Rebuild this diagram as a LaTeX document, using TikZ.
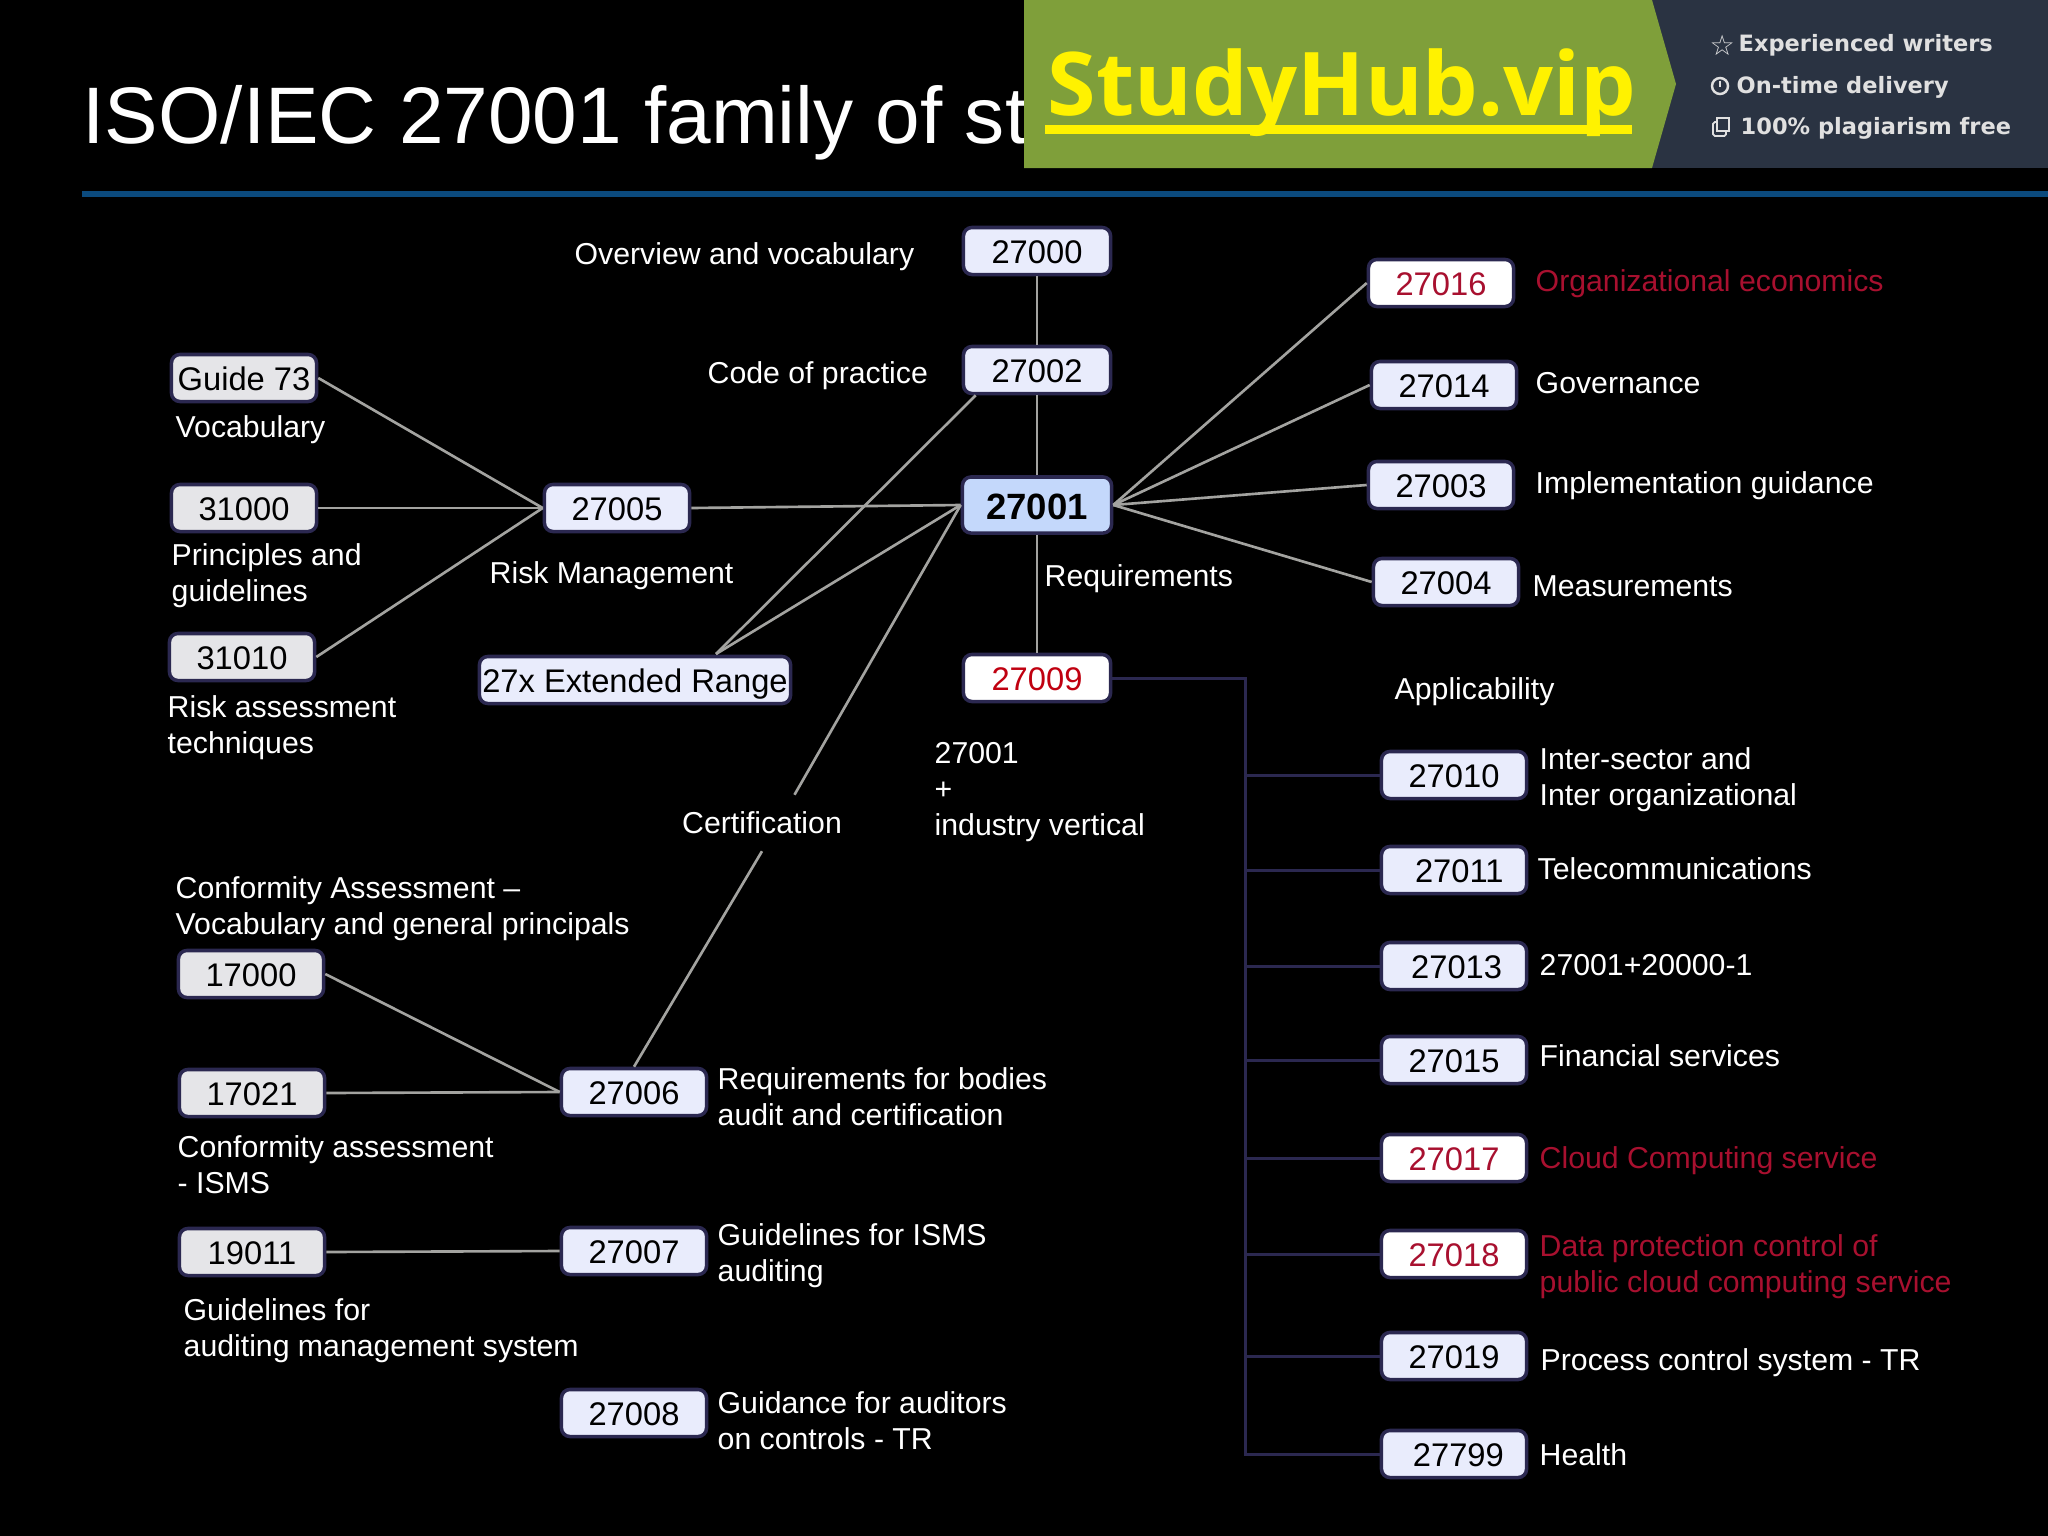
\documentclass[tikz,border=0pt]{standalone}
\usepackage{fontspec}
\setmainfont{Liberation Sans}
\newfontfamily\bannerfont{Open Sans}
\newfontfamily\sidefont{DejaVu Sans}
\usetikzlibrary{positioning,calc}
\definecolor{boxline}{HTML}{2B2850}
\definecolor{boxfill}{HTML}{E9ECFC}
\definecolor{boxgrey}{HTML}{E5E5E8}
\definecolor{boxmain}{HTML}{C4D8FB}
\definecolor{lineg}{HTML}{A3A3A0}
\definecolor{darkred}{HTML}{A8102F}
\definecolor{boxred}{HTML}{C00010}
\definecolor{rulecol}{HTML}{0B4A7D}
\definecolor{bannerg}{HTML}{7F9F3A}
\definecolor{bannerd}{HTML}{2A3342}
\definecolor{bannery}{HTML}{FFF200}
\tikzset{
	stdbox/.style={draw=boxline,line width=1pt,fill=boxfill,rounded corners=2.4pt,minimum width=1.45cm,minimum height=0.47cm,inner sep=0pt,text height=7pt,text depth=0pt,text=black,font=\fontsize{9.3}{11}\selectfont},
	greybox/.style={stdbox,fill=boxgrey},
	redbox/.style={stdbox,fill=white,text=darkred},
	lbl/.style={anchor=west,inner sep=0pt,xshift=-0.01cm,yshift=-0.03cm,align=left,text=white,font=\fontsize{8.6}{10.2}\selectfont},
	redlbl/.style={lbl,text=darkred},
	gline/.style={draw=lineg,line width=0.75pt},
	dline/.style={draw=boxline,line width=0.85pt},
	sidetxt/.style={anchor=west,inner sep=0pt,text=white!88!black,font=\sidefont\bfseries\fontsize{6.4}{7}\selectfont}
}
\begin{document}
\begin{tikzpicture}[x=0.01cm,y=-0.01cm]
	\useasboundingbox (0,0) rectangle (2048,1536);
	\fill[black] (0,0) rectangle (2048,1536);
	%title and banner
	\node[anchor=base west,inner sep=0pt,text=white,font=\fontsize{22.8}{26}\selectfont] (title) at (82,143) {ISO/IEC 27001 family of st};
	\draw[rulecol,line width=1.7pt] (82,194) -- (2048,194);
	\fill[bannerd] (1640,0) rectangle (2048,168);
	\fill[bannerg] (1024,0) -- (1652,0) -- (1676,84) -- (1652,168) -- (1024,168) -- cycle;
	\node[anchor=base west,inner sep=0pt,text=bannery,font=\bannerfont\bfseries\fontsize{25}{30}\selectfont] (hub) at (1047,115) {StudyHub.vip};
	\fill[bannery] (1045,125) rectangle (1632,134);
	\node[sidetxt,font=\sidefont\fontsize{8}{9}\selectfont] (star) at (1709,45) {☆};
	\node[sidetxt] (exp) at (1738,45) {Experienced writers};
	\draw[white!88!black,line width=0.7pt] (1720,86) circle (8);
	\draw[white!88!black,line width=0.6pt] (1720,81) -- (1720,87);
	\node[sidetxt] (ont) at (1736,87) {On-time delivery};
	\draw[white!88!black,line width=0.5pt,rounded corners=0.5pt] (1713,122) rectangle (1726,136);
	\draw[white!88!black,line width=0.5pt,fill=bannerd] (1717,118) rectangle (1729,131);
	\node[sidetxt] (plag) at (1740,128) {100\% plagiarism free};
	%centre column
	\node[stdbox,minimum width=1.47cm] (n27000) at (1037,251) {27000};
	\node[stdbox,minimum width=1.47cm] (n27002) at (1037,370) {27002};
	\node[stdbox,fill=boxmain,minimum width=1.49cm,minimum height=0.56cm,text height=8pt,font=\bfseries\fontsize{10.4}{12}\selectfont] (n27001) at (1037,505) {27001};
	\node[stdbox,minimum width=1.47cm,fill=white,text=boxred] (n27009) at (1037,678) {27009};
	\node[lbl] (overview) at (575,254) {Overview and vocabulary};
	\node[lbl] (code) at (708,373) {Code of practice};
	\node[lbl] (reqs) at (1045,576) {Requirements};
	\node[lbl] (vertical) at (935,789) {27001\\+\\industry vertical};
	%right top
	\node[redbox] (n27016) at (1441,283) {27016};
	\node[stdbox] (n27014) at (1444,385) {27014};
	\node[stdbox] (n27003) at (1441,485) {27003};
	\node[stdbox] (n27004) at (1446,582) {27004};
	\node[redlbl] (orgecon) at (1536,281) {Organizational economics};
	\node[lbl] (gov) at (1536,380) {Governance};
	\node[lbl] (impl) at (1536,483) {Implementation guidance};
	\node[lbl] (meas) at (1533,583) {Measurements};
	%left top
	\node[greybox] (guide) at (244,378) {Guide 73};
	\node[greybox] (n31000) at (244,508) {31000};
	\node[greybox] (n31010) at (242,657) {31010};
	\node[stdbox] (n27005) at (617,508) {27005};
	\node[stdbox,minimum width=3.11cm] (extrange) at (635,680) {27x Extended Range};
	\coordinate (extend) at (716,654);
	\node[lbl] (vocab) at (176,427) {Vocabulary};
	\node[lbl] (princ) at (172,573) {Principles and\\guidelines};
	\node[lbl] (riskass) at (168,725) {Risk assessment\\techniques};
	\node[lbl] (riskman) at (490,573) {Risk Management};
	%left bottom
	\node[greybox] (n17000) at (251,974) {17000};
	\node[greybox] (n17021) at (252,1093) {17021};
	\node[greybox] (n19011) at (252,1252) {19011};
	\node[stdbox] (n27006) at (634,1092) {27006};
	\node[stdbox] (n27007) at (634,1251) {27007};
	\node[stdbox] (n27008) at (634,1413) {27008};
	\node[lbl,anchor=center,minimum height=0.55cm] (cert) at (763,820) {Certification};
	\node[lbl] (confvoc) at (176,906) {Conformity Assessment --\\Vocabulary and general principals};
	\node[lbl] (confisms) at (178,1162) {Conformity assessment\\- ISMS};
	\node[lbl] (bodies) at (718,1094) {Requirements for bodies\\audit and certification};
	\node[lbl] (gisms) at (718,1253) {Guidelines for ISMS\\auditing};
	\node[lbl] (gmgmt) at (184,1328) {Guidelines for\\auditing management system};
	\node[lbl] (gaud) at (718,1418) {Guidance for auditors\\on controls - TR};
	%right bottom
	\node[lbl] (appl) at (1395,689) {Applicability};
	\node[stdbox] (n27010) at (1454,775) {27010};
	\node[stdbox] (n27011) at (1454,870) {\hspace{3pt}27011};
	\node[stdbox] (n27013) at (1454,966) {\hspace{1.5pt}27013};
	\node[stdbox] (n27015) at (1454,1060) {27015};
	\node[redbox] (n27017) at (1454,1158) {27017};
	\node[redbox] (n27018) at (1454,1254) {27018};
	\node[stdbox] (n27019) at (1454,1356) {27019};
	\node[stdbox] (n27799) at (1454,1454) {\hspace{2.5pt}27799};
	\node[lbl] (inter) at (1540,777) {Inter-sector and\\Inter organizational};
	\node[lbl] (telecom) at (1538,866) {Telecommunications};
	\node[lbl] (plus) at (1540,962) {27001+20000-1};
	\node[lbl] (fin) at (1540,1053) {Financial services};
	\node[redlbl] (cloud) at (1540,1158) {Cloud Computing service};
	\node[redlbl] (data) at (1540,1264) {Data protection control of\\public cloud computing service};
	\node[lbl] (proc) at (1541,1360) {Process control system - TR};
	\node[lbl] (health) at (1540,1452) {Health};
	%connectors
	\draw[gline] (n27000.south) -- (n27002.north);
	\draw[gline] (n27002.south) -- (n27001.north);
	\draw[gline] (n27001.south) -- (n27009.north);
	\draw[gline] (n27001.east) -- (n27016.west);
	\draw[gline] (n27001.east) -- (n27014.west);
	\draw[gline] (n27001.east) -- (n27003.west);
	\draw[gline] (n27001.east) -- (n27004.west);
	\draw[gline] (guide.east) -- (n27005.west);
	\draw[gline] (n31000.east) -- (n27005.west);
	\draw[gline] (n31010.east) -- (n27005.west);
	\draw[gline] (n27005.east) -- (n27001.west);
	\draw[gline] (extend) -- ([xshift=0.14cm]n27002.south west);
	\draw[gline] (extend) -- (n27001.west);
	\draw[gline] (n27006.north) -- (cert.south);
	\draw[gline] (cert.41) -- (n27001.west);
	\draw[gline] (n17000.east) -- (n27006.west);
	\draw[gline] (n17021.east) -- (n27006.west);
	\draw[gline] (n19011.east) -- (n27007.west);
	\coordinate (bus) at (1245,1454);
	\draw[dline] (n27009.east) -| (bus) -- (n27799.west);
	\draw[dline] (n27010.west) -- (n27010.west -| bus);
	\draw[dline] (n27011.west) -- (n27011.west -| bus);
	\draw[dline] (n27013.west) -- (n27013.west -| bus);
	\draw[dline] (n27015.west) -- (n27015.west -| bus);
	\draw[dline] (n27017.west) -- (n27017.west -| bus);
	\draw[dline] (n27018.west) -- (n27018.west -| bus);
	\draw[dline] (n27019.west) -- (n27019.west -| bus);
\end{tikzpicture}
\end{document}
